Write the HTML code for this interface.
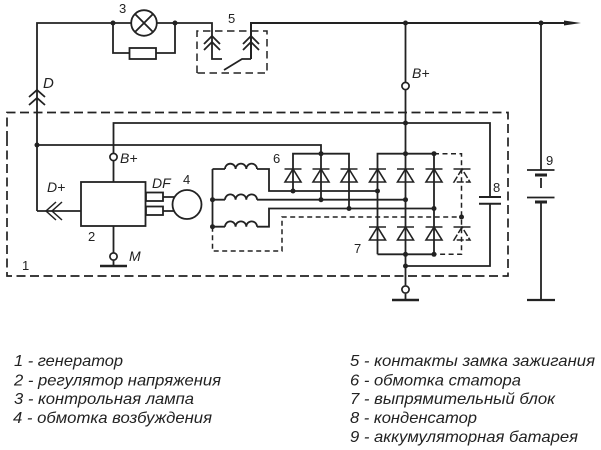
<!DOCTYPE html>
<html lang="ru">
<head>
<meta charset="utf-8">
<title>Схема</title>
<style>
html,body{margin:0;padding:0;background:#fff;width:601px;height:450px;overflow:hidden}
svg{display:block}
text{font-family:"Liberation Sans",sans-serif;fill:#222}
.i{font-style:italic}
</style>
</head>
<body>
<svg width="601" height="450" viewBox="0 0 601 450" xmlns="http://www.w3.org/2000/svg">
<defs>
<g id="d"><path d="M-8.5 0H8.5M0 0L-8 13H8Z" fill="none" stroke="#222" stroke-width="1.6"/></g>
<g id="dd"><path d="M-8.5 0H8.5" fill="none" stroke="#222" stroke-width="1.6"/><path d="M0 0L-8 13H8Z" fill="none" stroke="#222" stroke-width="1.5" stroke-dasharray="7 2"/></g>
</defs>
<g fill="none" stroke="#222" stroke-width="1.8">
<!-- dashed outer -->
<path d="M7 140V112.500H508V276H7V140" stroke-dasharray="9 4.500" stroke-width="1.700"/>
<path d="M197 73V31H267V73H197" stroke-dasharray="7.500 4.500" stroke-width="1.500"/>
<!-- top wires -->
<path d="M37 211V23H131M157 23H212V59H222"/>
<path d="M113 23V53H129.500M156 53H175V23"/>
<rect x="129.500" y="48" width="26.500" height="11"/>
<circle cx="144" cy="23" r="12.800"/>
<path d="M135 14L153 32M153 14L135 32"/>
<path d="M251 59V23H570" stroke-width="2"/>
<path d="M224 70L242 59H251"/>
<path d="M204 44L212 36L220 44M204 50L212 42L220 50"/>
<path d="M243 44L251 36L259 44M243 50L251 42L259 50"/>
<path d="M29 97L37 90L45 97M29 105L37 98L45 105"/>
<!-- internal bus -->
<path d="M113.500 182V123H490V197M490 204V266H405.500"/>
<path d="M37 145H321V153.700"/>
<path d="M37 211H81"/>
<path d="M62 202L52 211L62 220M56 202L46 211L56 220" stroke-width="1.500"/>
<!-- regulator -->
<rect x="81" y="182" width="64.500" height="44"/>
<path d="M113.500 226V266"/>
<path d="M100 266H127" stroke-width="2.500"/>
<rect x="146" y="192.500" width="17" height="8.500"/>
<rect x="146" y="206.500" width="17" height="8.500"/>
<path d="M163 197H174M163 211H174"/>
<circle cx="187" cy="204.500" r="14.500"/>
<!-- coils -->
<path d="M212.500 169V226.700"/>
<path d="M212.500 169H225M257 169H269V191H377.500"/>
<path d="M212.500 199.700H225M257 199.700H405.500"/>
<path d="M212.500 226.700H225M257 226.700H269V208.500H434"/>
<path d="M225 169a5.300 5.300 0 0 1 10.600 0a5.300 5.300 0 0 1 10.700 0a5.300 5.300 0 0 1 10.700 0"/>
<path d="M225 199.700a5.300 5.300 0 0 1 10.600 0a5.300 5.300 0 0 1 10.700 0a5.300 5.300 0 0 1 10.700 0"/>
<path d="M225 226.700a5.300 5.300 0 0 1 10.600 0a5.300 5.300 0 0 1 10.700 0a5.300 5.300 0 0 1 10.700 0"/>
<!-- stator dashed -->
<path d="M212.500 226.700V251H282V217H461.500" stroke-dasharray="5 3.500" stroke-width="1.500"/>
<!-- rails -->
<path d="M293 191V153.700H349V208.500"/>
<path d="M321 153.700V199.700"/>
<path d="M377.500 254.300V153.700H434V254.300H377.500"/>
<path d="M405.500 23V285"/>
<path d="M405.500 294V300"/>
<path d="M392 300H419" stroke-width="2.500"/>
<path d="M434 153.700H461.500V254.300H434" stroke-dasharray="5 3.500" stroke-width="1.500"/>
<!-- capacitor -->
<path d="M479 197H501M479 203.700H501" stroke-width="2"/>
<!-- battery -->
<path d="M541 23V170M541 202V300"/>
<path d="M527 170H554.500M527 197.500H554.500" stroke-width="1.700"/>
<path d="M527 300H555" stroke-width="2.300"/>
<path d="M535 175H547M535 202H547" stroke-width="3"/>
<path d="M541 178V188" stroke-width="1.800"/>
</g>
<path d="M564 20.500L581 23L564 25.500Z" fill="#222"/>
<!-- diodes -->
<use href="#d" x="293" y="169"/>
<use href="#d" x="321" y="169"/>
<use href="#d" x="349" y="169"/>
<use href="#d" x="377.500" y="169"/>
<use href="#d" x="405.500" y="169"/>
<use href="#d" x="434" y="169"/>
<use href="#dd" x="462" y="169"/>
<use href="#d" x="377.500" y="227"/>
<use href="#d" x="405.500" y="227"/>
<use href="#d" x="434" y="227"/>
<use href="#dd" x="462" y="227"/>
<!-- dots -->
<g fill="#222">
<circle cx="113" cy="23" r="2.500"/><circle cx="175" cy="23" r="2.500"/>
<circle cx="405.500" cy="23" r="2.500"/><circle cx="541" cy="23" r="2.500"/>
<circle cx="37" cy="145" r="2.500"/><circle cx="405.500" cy="123" r="2.500"/>
<circle cx="212.500" cy="199.700" r="2.500"/><circle cx="212.500" cy="226.700" r="2.500"/>
<circle cx="321" cy="153.700" r="2.500"/><circle cx="405.500" cy="153.700" r="2.500"/><circle cx="434" cy="153.700" r="2.500"/>
<circle cx="293" cy="191" r="2.500"/><circle cx="377.500" cy="191" r="2.500"/>
<circle cx="321" cy="199.700" r="2.500"/><circle cx="405.500" cy="199.700" r="2.500"/>
<circle cx="349" cy="208.500" r="2.500"/><circle cx="434" cy="208.500" r="2.500"/>
<circle cx="461.500" cy="217" r="2.500"/>
<circle cx="405.500" cy="254.300" r="2.500"/><circle cx="434" cy="254.300" r="2.500"/>
<circle cx="405.500" cy="266" r="2.500"/>
</g>
<!-- terminals -->
<g fill="#fff" stroke="#222" stroke-width="1.700">
<circle cx="405.500" cy="86" r="3.600"/>
<circle cx="113.500" cy="157" r="3.600"/>
<circle cx="113.500" cy="256.500" r="3.600"/>
<circle cx="405.500" cy="289.500" r="3.600"/>
</g>
<!-- diagram labels -->
<g font-size="13">
<text x="119" y="13">3</text>
<text x="228" y="23">5</text>
<text x="273" y="163">6</text>
<text x="183" y="184">4</text>
<text x="88" y="241">2</text>
<text x="22" y="270">1</text>
<text x="354" y="253">7</text>
<text x="493" y="192">8</text>
<text x="546" y="165">9</text>
</g>
<g font-size="14" class="i">
<text class="i" x="43" y="88" font-size="15">D</text>
<text class="i" x="412" y="78">B+</text>
<text class="i" x="120" y="163">B+</text>
<text class="i" x="47" y="192">D+</text>
<text class="i" x="152" y="188">DF</text>
<text class="i" x="129" y="261">M</text>
</g>
<!-- legend -->
<g font-size="16" class="i">
<text class="i" x="14" y="366" textLength="109" lengthAdjust="spacingAndGlyphs">1 - генератор</text>
<text class="i" x="14" y="385.500" textLength="207" lengthAdjust="spacingAndGlyphs">2 - регулятор напряжения</text>
<text class="i" x="14" y="404" textLength="180" lengthAdjust="spacingAndGlyphs">3 - контрольная лампа</text>
<text class="i" x="13" y="423" textLength="199" lengthAdjust="spacingAndGlyphs">4 - обмотка возбуждения</text>
<text class="i" x="350" y="366" textLength="245" lengthAdjust="spacingAndGlyphs">5 - контакты замка зажигания</text>
<text class="i" x="350" y="385.500" textLength="171" lengthAdjust="spacingAndGlyphs">6 - обмотка статора</text>
<text class="i" x="350" y="404" textLength="205" lengthAdjust="spacingAndGlyphs">7 - выпрямительный блок</text>
<text class="i" x="350" y="423" textLength="127" lengthAdjust="spacingAndGlyphs">8 - конденсатор</text>
<text class="i" x="350" y="442" textLength="228" lengthAdjust="spacingAndGlyphs">9 - аккумуляторная батарея</text>
</g>
</svg>
</body>
</html>
